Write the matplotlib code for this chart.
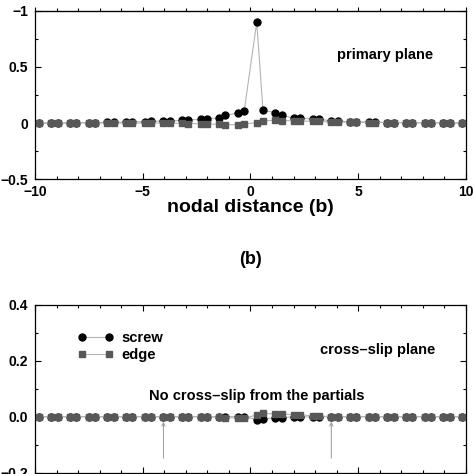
import matplotlib
matplotlib.use("Agg")
import matplotlib.pyplot as plt
from matplotlib.lines import Line2D
from matplotlib.ticker import MultipleLocator

plt.rcParams['font.family'] = ['Liberation Sans', 'DejaVu Sans']
plt.rcParams['font.weight'] = 'bold'

# nodal positions (b)
x_nodes = [-9.82, -9.24, -8.95, -8.37, -8.08, -7.51, -7.22, -6.64, -6.35, -5.77,
           -5.49, -4.91, -4.62, -4.04, -3.75, -3.18, -2.89, -2.31, -2.02, -1.44,
           -1.16, -0.58, -0.29, 0.29, 0.58, 1.16, 1.44, 2.02, 2.31, 2.89,
           3.18, 3.75, 4.04, 4.62, 4.91, 5.49, 5.77, 6.35, 6.64, 7.22,
           7.51, 8.08, 8.37, 8.95, 9.24, 9.82]

# primary plane
screw_primary = [0.0, 0.0, 0.0, 0.002, 0.002, 0.004, 0.004, 0.006, 0.006, 0.008,
                 0.009, 0.012, 0.014, 0.02, 0.02, 0.023, 0.029, 0.032, 0.04, 0.045,
                 0.068, 0.09, 0.11, 0.897, 0.112, 0.094, 0.068, 0.044, 0.044, 0.035,
                 0.035, 0.018, 0.018, 0.012, 0.012, 0.008, 0.008, 0.005, 0.005, 0.004,
                 0.004, 0.003, 0.003, 0.002, 0.002, 0.0]
edge_primary = [0.0, 0.0, 0.0, 0.0, 0.0, 0.0, 0.0, 0.0, 0.0, 0.0,
                0.0, 0.0, 0.0, 0.0, -0.002, -0.003, -0.004, -0.006, -0.009, -0.01,
                -0.015, -0.015, -0.01, 0.005, 0.02, 0.025, 0.022, 0.02, 0.019, 0.015,
                0.014, 0.01, 0.01, 0.007, 0.007, 0.005, 0.005, 0.004, 0.004, 0.003,
                0.003, 0.002, 0.002, 0.001, 0.001, 0.0]

# cross-slip plane
screw_cross = [0.0, 0.0, 0.0, 0.0, 0.0, 0.0, 0.0, 0.0, 0.0, 0.0,
               0.0, 0.0, 0.0, 0.0, 0.0, 0.0, 0.0, 0.0, 0.0, 0.0,
               0.0, 0.0, 0.0, -0.01, -0.008, -0.004, -0.003, -0.001, -0.001, 0.0,
               0.0, 0.0, 0.0, 0.0, 0.0, 0.0, 0.0, 0.0, 0.0, 0.0,
               0.0, 0.0, 0.0, 0.0, 0.0, 0.0]
edge_cross = [0.0, 0.0, 0.0, 0.0, 0.0, 0.0, 0.0, 0.0, 0.0, 0.0,
              0.0, 0.0, 0.0, 0.0, 0.0, 0.0, 0.0, 0.0, 0.0, -0.002,
              -0.003, -0.004, -0.005, 0.006, 0.012, 0.01, 0.01, 0.007, 0.007, 0.003,
              0.003, 0.0, 0.0, 0.0, 0.0, 0.0, 0.0, 0.0, 0.0, 0.0,
              0.0, 0.0, 0.0, 0.0, 0.0, 0.0]

arrow_x = [-4.04, 3.75]

x_ticks = [-10, -5, 0, 5, 10]
x_ticklabels = ['\u221210', '\u22125', '0', '5', '10']
y1_ticks = [-0.5, 0, 0.5, 1]
y1_ticklabels = ['\u22120.5', '0', '0.5', '\u22121']
y2_ticks = [-0.2, 0.0, 0.2, 0.4]
y2_ticklabels = ['\u22120.2', '0.0', '0.2', '0.4']

LINE_C = '#b4b4b4'
EDGE_C = '#585858'
TICK_FS = 10
TEXT_FS = 10.5

fig = plt.figure(figsize=(4.74, 4.74), dpi=100)
ax1 = fig.add_axes([0.0738, 0.6218, 0.9093, 0.3557])
ax2 = fig.add_axes([0.0738, 0.0027, 0.9093, 0.3545])


def draw(ax, ys, ye):
    ax.plot(x_nodes, ys, color=LINE_C, lw=0.8, marker='o', ms=5.0,
            mfc='black', mec='black', zorder=3, clip_on=False)
    ax.plot(x_nodes, ye, color=LINE_C, lw=0.8, marker='s', ms=4.0,
            mfc=EDGE_C, mec=EDGE_C, zorder=4, clip_on=False)


def style(ax, ylim, yticks, ylabels, yminor, top_out=False, xlabels=True):
    ax.set_xlim(-10, 10)
    ax.set_ylim(*ylim)
    ax.set_xticks(x_ticks)
    ax.set_xticklabels(x_ticklabels)
    ax.set_yticks(yticks)
    ax.set_yticklabels(ylabels)
    ax.xaxis.set_minor_locator(MultipleLocator(1))
    ax.yaxis.set_minor_locator(MultipleLocator(yminor))
    ax.tick_params(which='both', direction='in', left=True, right=True,
                   bottom=True, top=not top_out, labelsize=TICK_FS,
                   width=0.8, labelbottom=xlabels)
    ax.tick_params(axis='x', pad=4)
    ax.tick_params(axis='y', pad=5)
    ax.tick_params(which='major', length=4)
    ax.tick_params(which='minor', length=2.5)
    for lab in ax.get_xticklabels() + ax.get_yticklabels():
        lab.set_fontweight('bold')
    for s in ax.spines.values():
        s.set_linewidth(0.9)
    if top_out:
        sec = ax.secondary_xaxis('top')
        sec.set_xticks(x_ticks)
        sec.xaxis.set_minor_locator(MultipleLocator(1))
        sec.tick_params(which='both', direction='out', labeltop=False, width=0.8)
        sec.tick_params(which='major', length=3)
        sec.tick_params(which='minor', length=2)


draw(ax1, screw_primary, edge_primary)
style(ax1, (-0.5, 1.0), y1_ticks, y1_ticklabels, 0.25, top_out=True)
ax1.text(6.24, 0.61, 'primary plane', ha='center', va='center',
         fontsize=TEXT_FS, fontweight='bold')

draw(ax2, screw_cross, edge_cross)
style(ax2, (-0.2, 0.4), y2_ticks, y2_ticklabels, 0.1, xlabels=False)
ax2.text(5.92, 0.238, 'cross\u2013slip plane', ha='center', va='center',
         fontsize=TEXT_FS, fontweight='bold')
ax2.text(0.30, 0.073, 'No cross\u2013slip from the partials', ha='center',
         va='center', fontsize=TEXT_FS, fontweight='bold')
for xa in arrow_x:
    ax2.annotate('', xy=(xa, -0.018), xytext=(xa, -0.148),
                 arrowprops=dict(arrowstyle='->', color='#999999', lw=0.7,
                                 shrinkA=0, shrinkB=0, mutation_scale=6))

handles = [Line2D([], [], color=LINE_C, lw=0.8, marker='o', ms=5.0,
                  mfc='black', mec='black'),
           Line2D([], [], color=LINE_C, lw=0.8, marker='s', ms=4.0,
                  mfc=EDGE_C, mec=EDGE_C)]
ax2.legend(handles, ['screw', 'edge'], loc='upper left',
           bbox_to_anchor=(0.10, 0.845), frameon=False, numpoints=2,
           handlelength=2.4, handletextpad=0.55, labelspacing=0.22,
           borderpad=0, borderaxespad=0,
           prop=dict(family='Liberation Sans', weight='bold', size=TEXT_FS))

fig.text(250.5 / 474, 1 - 207.5 / 474, 'nodal distance (b)', ha='center',
         va='center', fontsize=14, fontweight='bold')
fig.text(250.7 / 474, 1 - 259 / 474, '(b)', ha='center', va='center',
         fontsize=13, fontweight='bold')

fig.savefig('out.png', dpi=100)
